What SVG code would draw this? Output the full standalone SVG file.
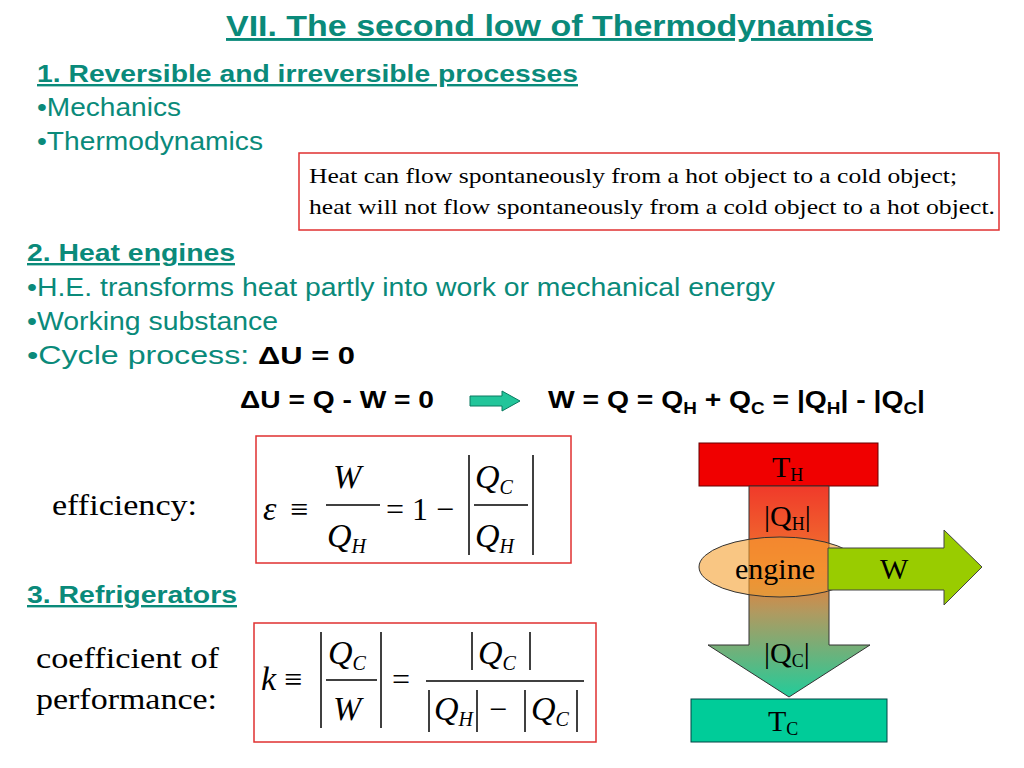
<svg xmlns="http://www.w3.org/2000/svg" width="1024" height="768" viewBox="0 0 1024 768">
<defs>
<linearGradient id="g" gradientUnits="userSpaceOnUse" x1="0" y1="486" x2="0" y2="697">
<stop offset="0" stop-color="#f03a2a"/><stop offset="0.4" stop-color="#f07a30"/><stop offset="0.6" stop-color="#b09a60"/><stop offset="1" stop-color="#22cc9a"/>
</linearGradient>
</defs>
<style>
.h{font-family:"Liberation Sans",Arial,sans-serif;font-weight:bold;fill:#0a8a7a;text-decoration:underline}
.b{font-family:"Liberation Sans",Arial,sans-serif;fill:#0a8a7a;font-size:25px}
.k{font-family:"Liberation Sans",Arial,sans-serif;font-weight:bold;fill:#000;font-size:24px}
.t{font-family:"Liberation Serif","Times New Roman",serif;fill:#000}
.i{font-style:italic}
.box{fill:none;stroke:#e03030;stroke-width:1.5}
.ln{stroke:#000;stroke-width:1.5;fill:none}
</style>
<rect width="1024" height="768" fill="#fff"/>
<text class="h" x="226" y="36" font-size="29" textLength="647" lengthAdjust="spacingAndGlyphs">VII. The second low of Thermodynamics</text>
<text class="h" x="37" y="82" font-size="24" textLength="541" lengthAdjust="spacingAndGlyphs">1. Reversible and irreversible processes</text>
<text class="b" x="37" y="116" textLength="144" lengthAdjust="spacingAndGlyphs">•Mechanics</text>
<text class="b" x="37" y="150" textLength="226" lengthAdjust="spacingAndGlyphs">•Thermodynamics</text>
<g id="note"><rect class="box" x="299" y="153" width="700" height="77"/>
<text class="t" x="309" y="183" font-size="21" textLength="648" lengthAdjust="spacingAndGlyphs">Heat can flow spontaneously from a hot object to a cold object;</text>
<text class="t" x="309" y="214" font-size="21" textLength="686" lengthAdjust="spacingAndGlyphs">heat will not flow spontaneously from a cold object to a hot object.</text></g>
<text class="h" x="27" y="261" font-size="24" textLength="208" lengthAdjust="spacingAndGlyphs">2. Heat engines</text>
<text class="b" x="27" y="296" textLength="748" lengthAdjust="spacingAndGlyphs">•H.E. transforms heat partly into work or mechanical energy</text>
<text class="b" x="27" y="330" textLength="251" lengthAdjust="spacingAndGlyphs">•Working substance</text>
<text class="b" x="27" y="364" textLength="328" lengthAdjust="spacingAndGlyphs">•Cycle process:  <tspan font-weight="bold" fill="#000" font-size="24">ΔU = 0</tspan></text>
<text class="k" x="240" y="408" textLength="194" lengthAdjust="spacingAndGlyphs">ΔU = Q - W = 0</text>
<polygon points="470,396 502,396 502,391 520,401 502,411 502,406 470,406" fill="#22c59a" stroke="#0a7a60" stroke-width="1"/>
<text class="k" x="548" y="408" textLength="377" lengthAdjust="spacingAndGlyphs">W = Q = Q<tspan font-size="16" dy="6">H</tspan><tspan dy="-6"> + Q</tspan><tspan font-size="16" dy="6">C</tspan><tspan dy="-6"> = |Q</tspan><tspan font-size="16" dy="6">H</tspan><tspan dy="-6">| - |Q</tspan><tspan font-size="16" dy="6">C</tspan><tspan dy="-6">|</tspan></text>

<text class="t" x="52" y="515" font-size="30" textLength="145" lengthAdjust="spacingAndGlyphs">efficiency:</text>
<g id="eff"><rect class="box" x="256" y="436" width="315" height="127"/>
<text class="t i" x="263" y="520" font-size="34">ε</text>
<text class="t" x="290" y="520" font-size="32">≡</text>
<text class="t i" x="333" y="488" font-size="34">W</text>
<line class="ln" x1="326" y1="505" x2="380" y2="505"/>
<text class="t i" x="327" y="547" font-size="34">Q<tspan font-size="20" dy="6">H</tspan></text>
<text class="t" x="386" y="520" font-size="32">= 1 −</text>
<line class="ln" x1="469" y1="455" x2="469" y2="555"/>
<line class="ln" x1="533" y1="455" x2="533" y2="555"/>
<text class="t i" x="475" y="488" font-size="34">Q<tspan font-size="20" dy="6">C</tspan></text>
<line class="ln" x1="474" y1="505" x2="528" y2="505"/>
<text class="t i" x="475" y="547" font-size="34">Q<tspan font-size="20" dy="6">H</tspan></text></g>

<text class="h" x="27" y="603" font-size="24" textLength="210" lengthAdjust="spacingAndGlyphs">3. Refrigerators</text>
<text class="t" x="36" y="668" font-size="30" textLength="183" lengthAdjust="spacingAndGlyphs">coefficient of</text>
<text class="t" x="36" y="709" font-size="30" textLength="181" lengthAdjust="spacingAndGlyphs">performance:</text>
<g id="cop"><rect class="box" x="254" y="623" width="342" height="119"/>
<text class="t i" x="261" y="690" font-size="34">k</text>
<text class="t" x="284" y="690" font-size="32">≡</text>
<line class="ln" x1="321" y1="632" x2="321" y2="728"/>
<line class="ln" x1="381" y1="632" x2="381" y2="728"/>
<text class="t i" x="328" y="664" font-size="34">Q<tspan font-size="20" dy="6">C</tspan></text>
<line class="ln" x1="326" y1="680" x2="377" y2="680"/>
<text class="t i" x="333" y="720" font-size="34">W</text>
<text class="t" x="392" y="690" font-size="32">=</text>
<text class="t i" x="478" y="664" font-size="34">Q<tspan font-size="20" dy="6">C</tspan></text>
<line class="ln" x1="472" y1="632" x2="472" y2="670"/><line class="ln" x1="530" y1="632" x2="530" y2="670"/>
<line class="ln" x1="426" y1="681" x2="584" y2="681"/>
<text class="t i" x="434" y="720" font-size="34">Q<tspan font-size="20" dy="6">H</tspan></text>
<line class="ln" x1="429" y1="690" x2="429" y2="732"/><line class="ln" x1="477" y1="690" x2="477" y2="732"/>
<text class="t" x="489" y="720" font-size="32">−</text>
<text class="t i" x="531" y="720" font-size="34">Q<tspan font-size="20" dy="6">C</tspan></text>
<line class="ln" x1="525" y1="690" x2="525" y2="732"/><line class="ln" x1="577" y1="690" x2="577" y2="732"/></g>

<g id="engine-diagram">
<rect x="699" y="443" width="179" height="43" fill="#f00000" stroke="#600" stroke-width="1"/>
<text class="t" x="772" y="477" font-size="30">T<tspan font-size="18" dy="4">H</tspan></text>
<polygon points="749,486 829,486 829,645 870,645 789,697 708,645 749,645" fill="url(#g)" stroke="#333" stroke-width="1"/>
<ellipse cx="780" cy="567" rx="81" ry="30" fill="#f5a030" fill-opacity="0.6" stroke="#333" stroke-width="1"/>
<text class="t" x="764" y="526" font-size="30">|Q<tspan font-size="18" dy="4">H</tspan><tspan dy="-4">|</tspan></text>
<text class="t" x="735" y="579" font-size="30">engine</text>
<polygon points="828,548 944,548 944,530 982,567 944,605 944,590 828,590" fill="#99cc00" stroke="#444" stroke-width="1"/>
<text class="t" x="880" y="579" font-size="30">W</text>
<text class="t" x="764" y="663" font-size="30">|Q<tspan font-size="18" dy="4">C</tspan><tspan dy="-4">|</tspan></text>
<rect x="691" y="699" width="196" height="43" fill="#00cc99" stroke="#044" stroke-width="1"/>
<text class="t" x="768" y="731" font-size="30">T<tspan font-size="18" dy="4">C</tspan></text>
</g>
</svg>
